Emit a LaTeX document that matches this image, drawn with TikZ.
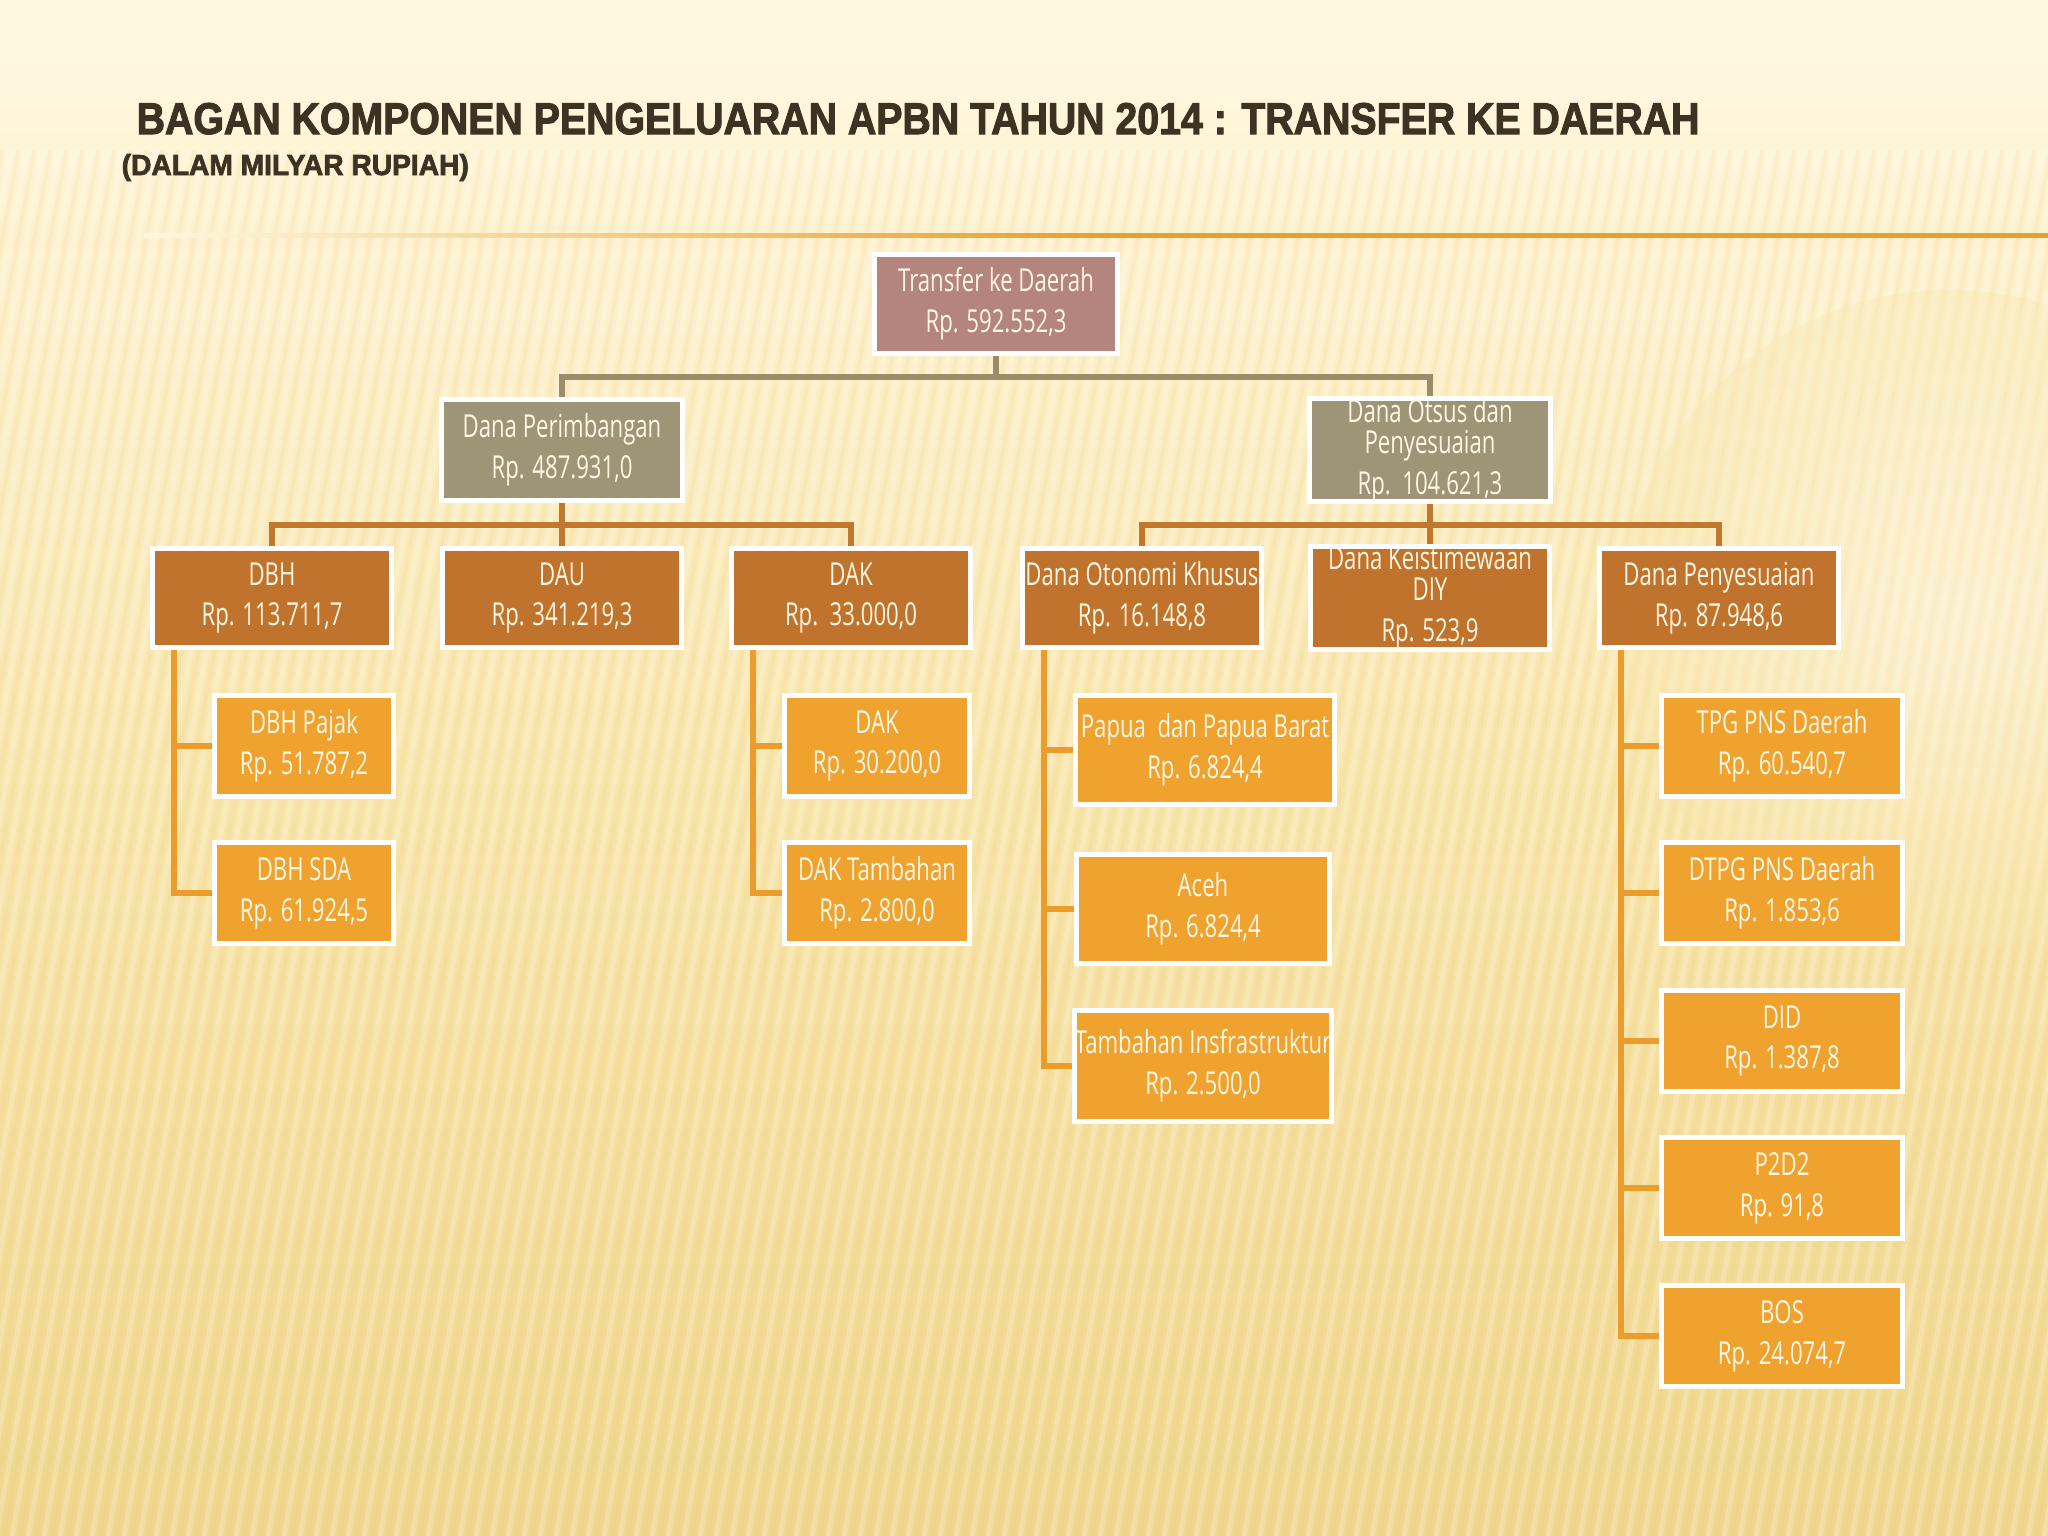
\documentclass[tikz,border=0pt]{standalone}
\usepackage{fontspec}
\newfontfamily\boxfont{Open Sans}[FakeStretch=0.70]
\newfontfamily\titlefont{Liberation Sans}[BoldFeatures={FakeBold=2.5}]
\usetikzlibrary{calc}
\pgfdeclarelayer{bg}
\pgfsetlayers{bg,main}
\definecolor{bgtop}{RGB}{255,248,224}
\definecolor{bgmid}{RGB}{249,230,172}
\definecolor{bgbot}{RGB}{240,214,140}
\definecolor{rulecol}{RGB}{232,160,48}
\definecolor{titlecol}{RGB}{62,50,34}
\definecolor{topfill}{RGB}{180,132,127}
\definecolor{lvlafill}{RGB}{158,148,120}
\definecolor{lvlbfill}{RGB}{192,115,44}
\definecolor{lvlcfill}{RGB}{240,162,46}
\definecolor{linea}{RGB}{156,141,106}
\definecolor{lineb}{RGB}{193,120,46}
\definecolor{linec}{RGB}{236,156,44}
\definecolor{boxtext}{RGB}{255,246,228}
\tikzset{
  box/.style={draw=white, line width=0.05cm, text=boxtext, align=center,
    inner sep=0pt, font=\boxfont\fontsize{9}{11.6}\selectfont},
  topbox/.style={box, fill=topfill, minimum width=2.42cm, minimum height=0.98cm},
  lvla/.style={box, fill=lvlafill, minimum width=2.40cm, minimum height=1.00cm},
  lvlb/.style={box, fill=lvlbfill, minimum width=2.39cm, minimum height=0.99cm},
  lvlc/.style={box, fill=lvlcfill, minimum height=1.00cm},
  conna/.style={draw=linea, line width=0.055cm},
  connb/.style={draw=lineb, line width=0.055cm},
  connc/.style={draw=linec, line width=0.055cm},
}
\begin{document}
\begin{tikzpicture}[x=0.01cm,y=-0.01cm]
\useasboundingbox (0,0) rectangle (2048,1536);
% title
\node[anchor=base west, inner sep=0pt, text=titlecol] (title) at (136,134)
  {\resizebox{15.62cm}{0.31cm}{\titlefont\bfseries BAGAN KOMPONEN PENGELUARAN APBN TAHUN 2014 : TRANSFER KE DAERAH}};
\node[anchor=base west, inner sep=0pt, text=titlecol] (subtitle) at (121,175)
  {\resizebox{3.47cm}{0.21cm}{\titlefont\bfseries (DALAM MILYAR RUPIAH)}};
% nodes
\node[topbox] (t) at (996,304) {Transfer ke Daerah\\Rp. 592.552,3};
\node[lvla] (dp) at (562,450) {Dana Perimbangan\\Rp. 487.931,0};
\node[lvla] (dos) at (1430,450) {Dana Otsus dan\\[-2.8pt]Penyesuaian\\Rp.\ \ 104.621,3};
\node[lvlb] (dbh) at (272,598) {DBH\\Rp. 113.711,7};
\node[lvlb] (dau) at (562,598) {DAU\\Rp. 341.219,3};
\node[lvlb] (dak) at (851,598) {DAK\\Rp.\ \ 33.000,0};
\node[lvlb] (oto) at (1142,598) {Dana Otonomi Khusus\\Rp. 16.148,8};
\node[lvlb] (kei) at (1430,598) {Dana Keistimewaan\\[-2.8pt]DIY\\Rp. 523,9};
\node[lvlb] (pen) at (1719,598) {Dana Penyesuaian\\Rp. 87.948,6};
\node[lvlc, minimum width=1.79cm] (pajak) at (304,746) {DBH Pajak\\Rp. 51.787,2};
\node[lvlc, minimum width=1.79cm] (sda) at (304,893) {DBH SDA\\Rp. 61.924,5};
\node[lvlc, minimum width=1.85cm] (dakb) at (877,746) {DAK\\Rp. 30.200,0};
\node[lvlc, minimum width=1.85cm] (dakt) at (877,893) {DAK Tambahan\\Rp. 2.800,0};
\node[lvlc, minimum width=2.58cm, minimum height=1.09cm] (papua) at (1205,750) {Papua\ \ dan Papua Barat\\Rp. 6.824,4};
\node[lvlc, minimum width=2.53cm, minimum height=1.09cm] (aceh) at (1203,909) {Aceh\\Rp. 6.824,4};
\node[lvlc, minimum width=2.53cm, minimum height=1.10cm] (tamb) at (1203,1066) {Tambahan Insfrastruktur\\Rp. 2.500,0};
\node[lvlc, minimum width=2.41cm] (tpg) at (1782,746) {TPG PNS Daerah\\Rp. 60.540,7};
\node[lvlc, minimum width=2.41cm] (dtpg) at (1782,893) {DTPG PNS Daerah\\Rp. 1.853,6};
\node[lvlc, minimum width=2.41cm] (did) at (1782,1041) {DID\\Rp. 1.387,8};
\node[lvlc, minimum width=2.41cm] (ptd) at (1782,1188) {P2D2\\Rp. 91,8};
\node[lvlc, minimum width=2.41cm] (bos) at (1782,1336) {BOS\\Rp. 24.074,7};
\begin{pgfonlayer}{bg}
% background
\shade[top color=bgtop, bottom color=bgbot, middle color=bgmid] (0,0) rectangle (2048,1536);
\fill[bgtop] (0,0) rectangle (2048,70);
\shade[top color=bgtop, bottom color=bgtop!60!bgmid] (0,70) rectangle (2048,250);
\begin{scope}
\clip (0,150) rectangle (2048,1536);
\foreach \i in {0,...,150} {
  \draw[white, opacity=0.22, line width=0.05cm] (\i*16-260,1536) -- (\i*16,120);
  \draw[bgbot!80!brown, opacity=0.12, line width=0.04cm] (\i*16-252,1536) -- (\i*16+8,120);
}
\end{scope}
\shade[inner color=white, outer color=bgmid, opacity=0.35] (1950,620) circle (330);
% rule
\shade[left color=bgtop, right color=rulecol, middle color=rulecol] (144,233) rectangle (2048,237);
% connectors level 1
\draw[conna] (t.south) -- (t.south |- 0,377) -| (dp.north);
\draw[conna] (t.south) -- (t.south |- 0,377) -| (dos.north);
% level 2
\draw[connb] (dp.south) -- (dp.south |- 0,525) -| (dbh.north);
\draw[connb] (dp.south) -- (dau.north);
\draw[connb] (dp.south) -- (dp.south |- 0,525) -| (dak.north);
\draw[connb] (dos.south) -- (dos.south |- 0,525) -| (oto.north);
\draw[connb] (dos.south) -- (kei.north);
\draw[connb] (dos.south) -- (dos.south |- 0,525) -| (pen.north);
% level 3
\draw[connc] ([xshift=0.24cm]dbh.south west) |- (pajak.west);
\draw[connc] ([xshift=0.24cm]dbh.south west) |- (sda.west);
\draw[connc] ([xshift=0.24cm]dak.south west) |- (dakb.west);
\draw[connc] ([xshift=0.24cm]dak.south west) |- (dakt.west);
\draw[connc] ([xshift=0.24cm]oto.south west) |- (papua.west);
\draw[connc] ([xshift=0.24cm]oto.south west) |- (aceh.west);
\draw[connc] ([xshift=0.24cm]oto.south west) |- (tamb.west);
\draw[connc] ([xshift=0.24cm]pen.south west) |- (tpg.west);
\draw[connc] ([xshift=0.24cm]pen.south west) |- (dtpg.west);
\draw[connc] ([xshift=0.24cm]pen.south west) |- (did.west);
\draw[connc] ([xshift=0.24cm]pen.south west) |- (ptd.west);
\draw[connc] ([xshift=0.24cm]pen.south west) |- (bos.west);
\end{pgfonlayer}
\end{tikzpicture}
\end{document}
